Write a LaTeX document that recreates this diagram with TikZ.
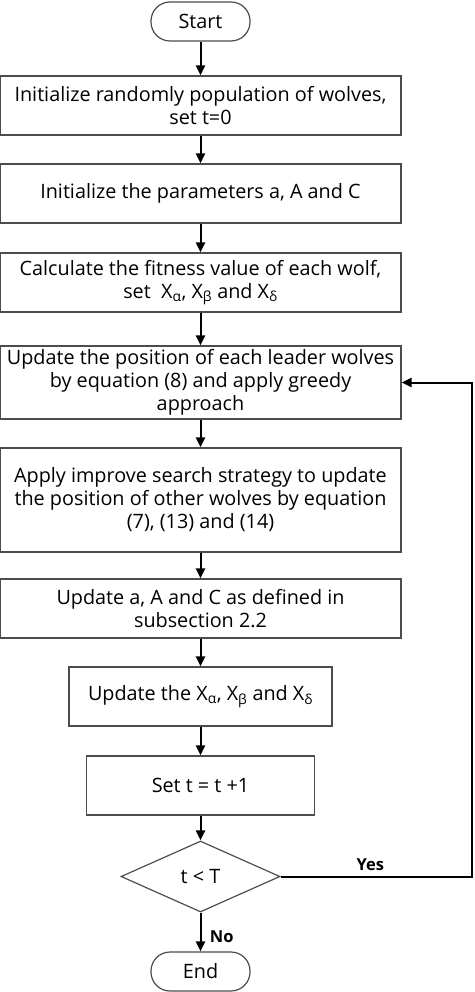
\documentclass[tikz,border=0pt]{standalone}
\usepackage{fontspec}
\setmainfont{Open Sans}
\usetikzlibrary{shapes.geometric,arrows.meta}
\begin{document}
\begin{tikzpicture}[x=1pt,y=1pt,
  font=\fontsize{19.8}{23}\selectfont,
  box/.style={draw=black!70,line width=1.2pt,rectangle,inner sep=0pt,align=center,text=black},
  term/.style={box,rounded corners=19pt,minimum width=99pt,minimum height=39pt},
  dec/.style={draw=black!70,line width=1.2pt,diamond,aspect=2.24,inner sep=0pt,minimum width=159pt,minimum height=71pt},
  flow/.style={-{Triangle[length=10pt,width=9pt]},line width=2pt,black},
  lab/.style={font=\fontsize{16.5}{18}\selectfont\bfseries}]
\useasboundingbox (0,0) rectangle (474,-992);
\node[term] (start) at (200.5,-21.5) {Start};
\node[box,minimum width=401pt,minimum height=59pt] (b1) at (200.5,-105.5) {Initialize randomly population of wolves,\\ set t=0};
\node[box,minimum width=401pt,minimum height=59pt] (b2) at (200.5,-193.5) {Initialize the parameters a, A and C};
\node[box,minimum width=401pt,minimum height=59pt] (b3) at (200.5,-282.5) {Calculate the fitness value of each wolf,\\ set\ \ X\textsubscript{α}, X\textsubscript{β} and X\textsubscript{δ}};
\node[box,minimum width=401pt,minimum height=73pt] (b4) at (200.5,-382.5) {Update the position of each leader wolves\\ by equation (8) and apply greedy\\ approach};
\node[box,minimum width=401pt,minimum height=104pt] (b5) at (200.5,-500) {Apply improve search strategy to update\\ the position of other wolves by equation\\ (7), (13) and (14)};
\node[box,minimum width=401pt,minimum height=59pt] (b6) at (200.5,-608.5) {Update a, A and C as defined in\\ subsection 2.2};
\node[box,minimum width=263pt,minimum height=59pt] (b7) at (200.5,-696.5) {Update the X\textsubscript{α}, X\textsubscript{β} and X\textsubscript{δ}};
\node[box,minimum width=228pt,minimum height=59pt] (b8) at (200.5,-785.5) {Set t = t +1};
\node[dec] (d) at (200.5,-876.5) {t < T};
\node[term] (end) at (200.5,-971.5) {End};
\coordinate (corner) at (472,-876.5);
\draw[flow] (start) -- (b1);
\draw[flow] (b1) -- (b2);
\draw[flow] (b2) -- (b3);
\draw[flow] (b3) -- (b4);
\draw[flow] (b4) -- (b5);
\draw[flow] (b5) -- (b6);
\draw[flow] (b6) -- (b7);
\draw[flow] (b7) -- (b8);
\draw[flow] (b8) -- (d);
\draw[flow] (d) -- node[lab,right,pos=0.62,xshift=5pt] {No} (end);
\draw[flow] (d.east) -- node[lab,above,xshift=-6pt,yshift=2pt] {Yes} (corner) |- (b4.east);
\end{tikzpicture}
\end{document}
